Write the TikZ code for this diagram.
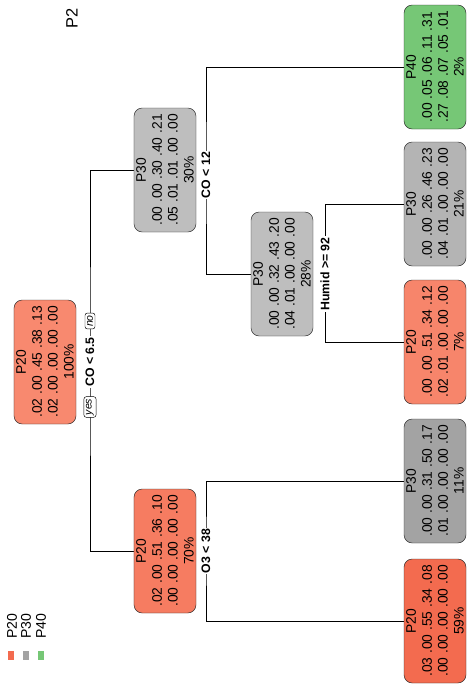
\documentclass[tikz,border=0pt]{standalone}
\usepackage{fontspec}
\setmainfont{Liberation Sans}
\usetikzlibrary{backgrounds}
\definecolor{redA}{RGB}{248,137,111}
\definecolor{redB}{RGB}{246,124,97}
\definecolor{redC}{RGB}{247,133,107}
\definecolor{redD}{RGB}{243,107,79}
\definecolor{greyA}{RGB}{190,190,190}
\definecolor{greyB}{RGB}{180,180,180}
\definecolor{greyC}{RGB}{163,163,163}
\definecolor{greenA}{RGB}{118,199,118}
\tikzset{
  tnode/.style={draw=black!85, rounded corners=7pt, fill=#1, rotate=90, minimum width=3.72cm,
    minimum height=1.86cm, align=center, inner sep=0.5pt, font=\fontsize{11.8}{13.6}\selectfont},
  split/.style={fill=white, rotate=90, inner sep=1pt, font=\bfseries\fontsize{10.5}{12}\selectfont},
  yn/.style={draw, rounded corners=2pt, fill=white, rotate=90, inner sep=1.8pt,
    font=\itshape\fontsize{9}{10}\selectfont},
  edge/.style={draw=black, line width=0.6pt},
  key/.style={fill=#1, minimum width=0.18cm, minimum height=0.27cm, inner sep=0pt},
  keytext/.style={rotate=90, inner sep=0pt, font=\fontsize{12}{14}\selectfont},
}

\begin{document}
\begin{tikzpicture}[x=0.03cm, y=-0.03cm]
    \useasboundingbox (0,0) rectangle (470,690);
    % title
    \node[rotate=90, font=\fontsize{14}{16}\selectfont] (title) at (72,18) {P2};
    % tree
    \node[tnode=redA] (root) at (45,362) {P20\\.02 .00 .45 .38 .13\\.02 .00 .00 .00 .00\\100\%};
    \node[tnode=greyA] (n2) at (165,170) {P30\\.00 .00 .30 .40 .21\\.05 .01 .01 .00 .00\\30\%};
    \node[tnode=redB] (n3) at (165,551) {P20\\.02 .00 .51 .36 .10\\.00 .00 .00 .00 .00\\70\%};
    \node[tnode=greyA] (n4) at (282,274) {P30\\.00 .00 .32 .43 .20\\.04 .01 .00 .00 .00\\28\%};
    \node[tnode=greenA] (l1) at (435,67) {P40\\.00 .05 .06 .11 .31\\.27 .08 .07 .05 .01\\2\%};
    \node[tnode=greyB] (l2) at (435,204) {P30\\.00 .00 .26 .46 .23\\.04 .01 .00 .00 .00\\21\%};
    \node[tnode=redC] (l3) at (435,342) {P20\\.00 .00 .51 .34 .12\\.02 .01 .00 .00 .00\\7\%};
    \node[tnode=greyC] (l4) at (435,481) {P30\\.00 .00 .31 .50 .17\\.01 .00 .00 .00 .00\\11\%};
    \node[tnode=redD] (l5) at (435,621) {P20\\.03 .00 .55 .34 .08\\.00 .00 .00 .00 .00\\59\%};
    % split labels
    \node[split] (s1) at (90,362) {CO < 6.5};
    \node[split] (s2) at (206,175) {CO < 12};
    \node[split] (s3) at (206,551) {O3 < 38};
    \node[split] (s4) at (325,274) {Humid >= 92};
    \node[yn] (yes) at (90,407) {yes};
    \node[yn] (no) at (90,321) {no};
    % connectors
    \begin{scope}[on background layer]
      \draw[edge] (n2.north) -| (s1.center) |- (n3.north);
      \draw[edge] (l1.north) -| (s2.center) |- (n4.north);
      \draw[edge] (l2.north) -| (s4.center) |- (l3.north);
      \draw[edge] (l4.north) -| (s3.center) |- (l5.north);
    \end{scope}
    % legend
    \node[keytext] (k1) at (12,626) {P20};
    \node[keytext] (k2) at (26,626) {P30};
    \node[keytext] (k3) at (41,626) {P40};
    \node[key=redD] (c1) at (11,655) {};
    \node[key=greyC] (c2) at (26,655) {};
    \node[key=greenA] (c3) at (41,655) {};
\end{tikzpicture}
\end{document}
